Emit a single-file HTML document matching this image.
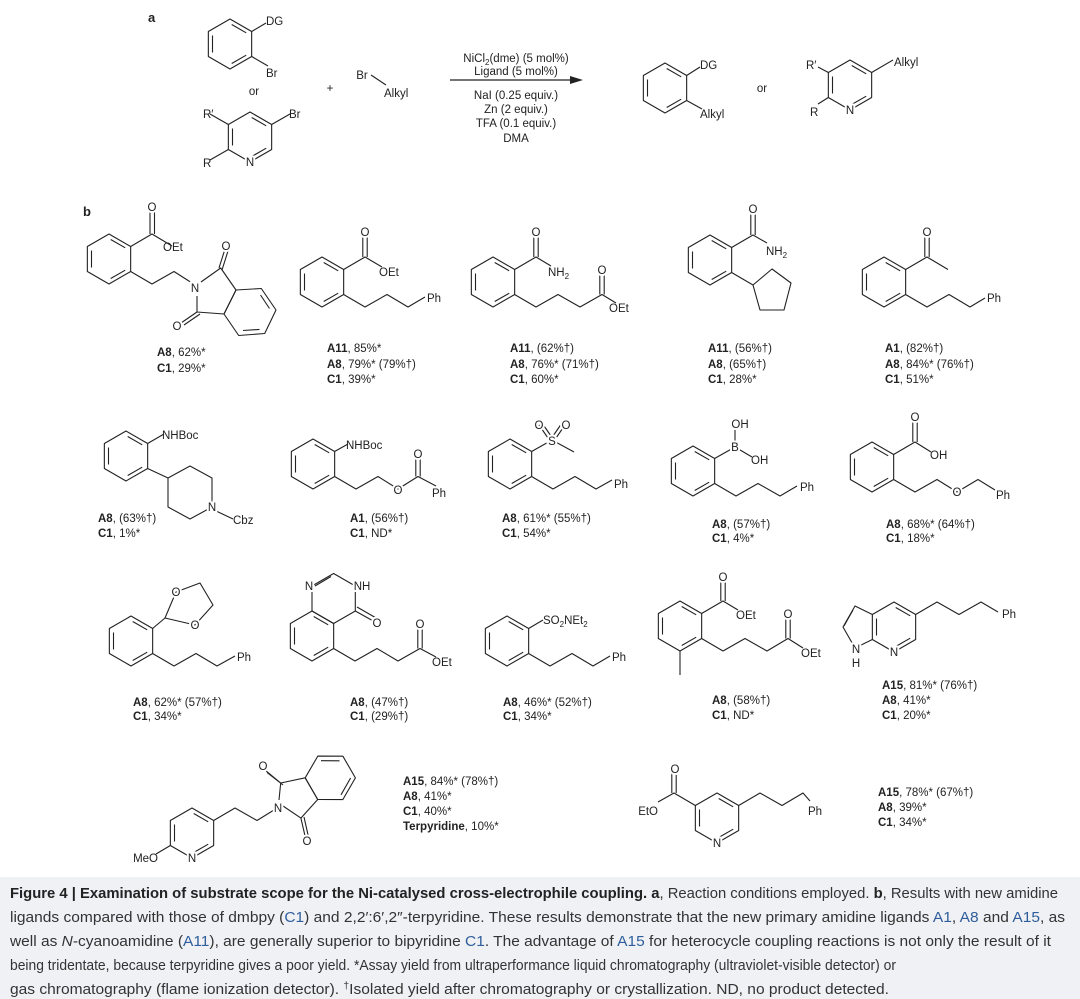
<!DOCTYPE html>
<html><head><meta charset="utf-8"><style>
html,body{margin:0;padding:0;background:#fff;}
svg{display:block;}
.b{stroke:#222;stroke-width:1.1;fill:none;stroke-linejoin:round;}
text{font-family:"Liberation Sans",sans-serif;font-size:11.5px;fill:#222;}
.a{paint-order:stroke;stroke:#fff;stroke-width:4px;text-anchor:middle;}
.l{font-size:11.5px;}
.cap{font-family:"Liberation Sans Narrow","Liberation Sans",sans-serif;font-size:15px;fill:#333;}
.bl{fill:#2f5e9c;}
</style></head><body>
<svg width="1080" height="999" viewBox="0 0 1080 999" xmlns="http://www.w3.org/2000/svg">
<defs>
<g id="bz"><polygon class="b" points="0,-25 21.65,-12.5 21.65,12.5 0,25 -21.65,12.5 -21.65,-12.5"/>
<path class="b" d="M1.7,-19.5L16.2,-11.2M16.2,11.2L1.7,19.5M-17.5,8.5L-17.5,-8.5"/></g>
</defs>

<!-- a -->
<text x="148" y="22" style="font-weight:bold;font-size:13px">a</text>
<use href="#bz" x="230" y="44"/>
<path class="b" d="M251.65,31.5L266,23M251.65,56.5L268,66"/>
<text x="266" y="25">DG</text><text x="266" y="77">Br</text>
<text x="254" y="95" style="text-anchor:middle">or</text>
<use href="#bz" x="250" y="137"/>
<path class="b" d="M228.35,124.5L210,114M228.35,149.5L210,160M271.65,124.5L290,114"/>
<text x="203" y="118">R′</text><text x="203" y="167">R</text><text x="289" y="118">Br</text>
<text x="250" y="166" class="a">N</text>
<text x="330" y="92" style="text-anchor:middle">+</text>
<text x="362" y="79" style="text-anchor:middle">Br</text>
<path class="b" d="M371,75L386,85"/>
<text x="384" y="97">Alkyl</text>
<path d="M450,80L574,80" stroke="#222" stroke-width="1.2"/>
<polygon points="583,80 570,76 570,84" fill="#222"/>
<g style="text-anchor:middle">
<text x="516" y="62">NiCl<tspan font-size="8" dy="3">2</tspan><tspan dy="-3">(dme) (5 mol%)</tspan></text>
<text x="516" y="75">Ligand (5 mol%)</text>
<text x="516" y="99">NaI (0.25 equiv.)</text>
<text x="516" y="113">Zn (2 equiv.)</text>
<text x="516" y="127">TFA (0.1 equiv.)</text>
<text x="516" y="142">DMA</text>
</g>
<use href="#bz" x="665" y="88"/>
<path class="b" d="M686.65,75.5L700,67M686.65,100.5L702,109"/>
<text x="700" y="69">DG</text><text x="700" y="118">Alkyl</text>
<text x="762" y="92" style="text-anchor:middle">or</text>
<use href="#bz" x="850" y="85"/>
<path class="b" d="M828.35,72.5L818,67M828.35,97.5L818,104M871.65,72.5L893,60"/>
<text x="806" y="69">R′</text><text x="810" y="116">R</text><text x="894" y="66">Alkyl</text>
<text x="850" y="114" class="a">N</text>

<text x="83" y="216" style="font-weight:bold;font-size:13px">b</text>

<!-- S1 -->
<use href="#bz" x="109" y="259"/>
<path class="b" d="M130.65,246.5L152,234L172,246M150,234V210M154.5,234V210M130.65,271.5L152,284L174,271.5L192,283"/>
<text x="152" y="211" class="a">O</text><text x="163" y="251">OEt</text>
<path class="b" d="M201,282L220.7,268L236,290L224,314L197,312L197,296M219,268L225,249M222,270L228,251M197,312L181,323M200,314L184,325"/>
<polygon class="b" points="236,290 224,314 238.7,335.5 264.7,333.5 276,310 261.3,288.5"/>
<path class="b" d="M243,330.5L259.5,329.4M269.5,308.5L260.5,295"/>
<text x="195" y="292" class="a">N</text>
<text x="226" y="250" class="a">O</text><text x="177" y="330" class="a">O</text>
<text x="157" y="356" class="l"><tspan font-weight="bold">A8</tspan>, 62%*</text>
<text x="157" y="372" class="l"><tspan font-weight="bold">C1</tspan>, 29%*</text>

<!-- S2 -->
<use href="#bz" x="322" y="282"/>
<path class="b" d="M343.6,269.5L365,257L382,267M362.8,257V234M367.2,257V234M343.6,294.5L365,307L387,294.5L408,307L425,297"/>
<text x="365" y="236" class="a">O</text><text x="379" y="276">OEt</text><text x="427" y="302">Ph</text>
<text x="327" y="352" class="l"><tspan font-weight="bold">A11</tspan>, 85%*</text>
<text x="327" y="368" class="l"><tspan font-weight="bold">A8</tspan>, 79%* (79%†)</text>
<text x="327" y="383" class="l"><tspan font-weight="bold">C1</tspan>, 39%*</text>

<!-- S3 -->
<use href="#bz" x="493" y="282"/>
<path class="b" d="M514.6,269.5L536,257L551,266M533.8,257V234M538.2,257V234M514.6,294.5L536,307L558,294.5L580,307L602,294.5L616,303M599.8,294.5V272M604.2,294.5V272"/>
<text x="536" y="236" class="a">O</text><text x="548" y="276">NH<tspan font-size="8" dy="3">2</tspan></text>
<text x="602" y="274" class="a">O</text><text x="609" y="312">OEt</text>
<text x="510" y="352" class="l"><tspan font-weight="bold">A11</tspan>, (62%†)</text>
<text x="510" y="368" class="l"><tspan font-weight="bold">A8</tspan>, 76%* (71%†)</text>
<text x="510" y="383" class="l"><tspan font-weight="bold">C1</tspan>, 60%*</text>

<!-- S4 -->
<use href="#bz" x="710" y="260"/>
<path class="b" d="M731.6,247.5L753,235L767,243M750.8,235V212M755.2,235V212M731.6,272.5L753,285"/>
<polygon class="b" points="753,285 772,269 791,283 784,310 760,310"/>
<text x="753" y="213" class="a">O</text><text x="766" y="255">NH<tspan font-size="8" dy="3">2</tspan></text>
<text x="708" y="352" class="l"><tspan font-weight="bold">A11</tspan>, (56%†)</text>
<text x="708" y="368" class="l"><tspan font-weight="bold">A8</tspan>, (65%†)</text>
<text x="708" y="383" class="l"><tspan font-weight="bold">C1</tspan>, 28%*</text>

<!-- S5 -->
<use href="#bz" x="884" y="282"/>
<path class="b" d="M905.6,269.5L927,257L948,269.5M924.8,257V234M929.2,257V234M905.6,294.5L927,307L949,294.5L970,307L985,298"/>
<text x="927" y="236" class="a">O</text><text x="987" y="302">Ph</text>
<text x="885" y="352" class="l"><tspan font-weight="bold">A1</tspan>, (82%†)</text>
<text x="885" y="368" class="l"><tspan font-weight="bold">A8</tspan>, 84%* (76%†)</text>
<text x="885" y="383" class="l"><tspan font-weight="bold">C1</tspan>, 51%*</text>

<!-- S6 -->
<use href="#bz" x="126" y="456"/>
<path class="b" d="M147.6,443.5L164,434M147.6,468.5L168,478"/>
<polygon class="b" points="168,478 190,466 212,478 212,507 190,519 168,507"/>
<path class="b" d="M214,510L233,519"/>
<text x="162" y="439">NHBoc</text>
<text x="212" y="511" class="a">N</text><text x="233" y="524">Cbz</text>
<text x="98" y="522" class="l"><tspan font-weight="bold">A8</tspan>, (63%†)</text>
<text x="98" y="537" class="l"><tspan font-weight="bold">C1</tspan>, 1%*</text>

<!-- S7 -->
<use href="#bz" x="313" y="464"/>
<path class="b" d="M334.6,451.5L348,444M334.6,476.5L356,489L378,476.5L398,489L418,476.5L436,486M415.8,476.5V456M420.2,476.5V456"/>
<text x="346" y="449">NHBoc</text>
<text x="398" y="494" class="a">O</text><text x="418" y="458" class="a">O</text><text x="432" y="497">Ph</text>
<text x="350" y="522" class="l"><tspan font-weight="bold">A1</tspan>, (56%†)</text>
<text x="350" y="537" class="l"><tspan font-weight="bold">C1</tspan>, ND*</text>

<!-- S8 -->
<use href="#bz" x="510" y="464"/>
<path class="b" d="M531.6,451.5L552,440L574,452M548,438L539,425M551,436L542,423M553,436L562,423M556,438L565,425M531.6,476.5L553,489L575,476.5L596,489L612,480"/>
<text x="552" y="445" class="a">S</text><text x="539" y="429" class="a">O</text><text x="566" y="429" class="a">O</text>
<text x="614" y="488">Ph</text>
<text x="502" y="522" class="l"><tspan font-weight="bold">A8</tspan>, 61%* (55%†)</text>
<text x="502" y="537" class="l"><tspan font-weight="bold">C1</tspan>, 54%*</text>

<!-- S9 -->
<use href="#bz" x="693" y="471"/>
<path class="b" d="M714.6,458.5L735,447L752,457M735,447V429M714.6,483.5L736,496L758,483.5L780,496L797,486"/>
<text x="735" y="451" class="a">B</text><text x="740" y="428" class="a">OH</text><text x="751" y="464">OH</text>
<text x="800" y="491">Ph</text>
<text x="712" y="528" class="l"><tspan font-weight="bold">A8</tspan>, (57%†)</text>
<text x="712" y="542" class="l"><tspan font-weight="bold">C1</tspan>, 4%*</text>

<!-- S10 -->
<use href="#bz" x="872" y="467"/>
<path class="b" d="M893.6,454.5L915,442L931,452M912.8,442V420M917.2,442V420M893.6,479.5L915,492L937,479.5L957,492L978,479.5L995,490"/>
<text x="915" y="421" class="a">O</text><text x="930" y="459">OH</text>
<text x="957" y="496" class="a">O</text><text x="996" y="499">Ph</text>
<text x="886" y="528" class="l"><tspan font-weight="bold">A8</tspan>, 68%* (64%†)</text>
<text x="886" y="542" class="l"><tspan font-weight="bold">C1</tspan>, 18%*</text>

<!-- S11 -->
<use href="#bz" x="131" y="641"/>
<path class="b" d="M152.6,628.5L165,618M152.6,653.5L174,666L196,653.5L217,666L235,656"/>
<polygon class="b" points="165,618 176,592 200,583 213,605 195,625"/>
<text x="176" y="596" class="a">O</text><text x="195" y="629" class="a">O</text>
<text x="237" y="661">Ph</text>
<text x="133" y="706" class="l"><tspan font-weight="bold">A8</tspan>, 62%* (57%†)</text>
<text x="133" y="720" class="l"><tspan font-weight="bold">C1</tspan>, 34%*</text>

<!-- S12 -->
<use href="#bz" x="312" y="636"/>
<polygon class="b" points="333.6,573.5 355.3,586 355.3,611 333.6,623.5 312,611 312,586"/>
<path class="b" d="M315,586L331,576.5M355.3,611L375,622M357,607L377,618.5M333.6,648.5L355,661L377,648.5L398,661L420,648.5L436,657M417.8,648.5V626M422.2,648.5V626"/>
<text x="309" y="590" class="a">N</text><text x="362" y="590" class="a">NH</text>
<text x="377" y="627" class="a">O</text><text x="420" y="628" class="a">O</text><text x="432" y="666">OEt</text>
<text x="350" y="706" class="l"><tspan font-weight="bold">A8</tspan>, (47%†)</text>
<text x="350" y="720" class="l"><tspan font-weight="bold">C1</tspan>, (29%†)</text>

<!-- S13 -->
<use href="#bz" x="507" y="641"/>
<path class="b" d="M528.6,628.5L543,620M528.6,653.5L550,666L572,653.5L593,666L610,656"/>
<text x="543" y="624">SO<tspan font-size="8" dy="3">2</tspan><tspan dy="-3">NEt</tspan><tspan font-size="8" dy="3">2</tspan></text>
<text x="612" y="661">Ph</text>
<text x="503" y="706" class="l"><tspan font-weight="bold">A8</tspan>, 46%* (52%†)</text>
<text x="503" y="720" class="l"><tspan font-weight="bold">C1</tspan>, 34%*</text>

<!-- S14 -->
<use href="#bz" x="680" y="626"/>
<path class="b" d="M701.6,613.5L723,601L738,610M720.8,601V579M725.2,601V579M701.6,638.5L723,651L745,638.5L767,651L788,638.5L803,648M785.8,638.5V616M790.2,638.5V616M680,651V675"/>
<text x="723" y="581" class="a">O</text><text x="736" y="619">OEt</text>
<text x="788" y="618" class="a">O</text><text x="801" y="657">OEt</text>
<text x="712" y="704" class="l"><tspan font-weight="bold">A8</tspan>, (58%†)</text>
<text x="712" y="719" class="l"><tspan font-weight="bold">C1</tspan>, ND*</text>

<!-- S15 -->
<use href="#bz" x="894" y="627"/>
<path class="b" d="M872.35,614.5L855,606L843,627L855,648L872.35,639.5M853,610L844,626M915.6,614.5L937,602L959,614.5L981,602L998,612"/>
<text x="894" y="656" class="a">N</text><text x="856" y="653" class="a">N</text><text x="856" y="667" style="text-anchor:middle">H</text>
<text x="1002" y="618">Ph</text>
<text x="882" y="689" class="l"><tspan font-weight="bold">A15</tspan>, 81%* (76%†)</text>
<text x="882" y="704" class="l"><tspan font-weight="bold">A8</tspan>, 41%*</text>
<text x="882" y="719" class="l"><tspan font-weight="bold">C1</tspan>, 20%*</text>

<!-- S16 -->
<use href="#bz" x="192" y="833"/>
<path class="b" d="M170.35,845.5L156,854M213.65,820.5L235,808L257,820.5L274,810"/>
<text x="192" y="862" class="a">N</text><text x="158" y="862" style="text-anchor:end">MeO</text>
<path class="b" d="M283,806L300.9,818.1L317.7,799.5L305.2,777.8L280.7,783L279,800M280.7,783L265,770M283,785L267,772.5M300.9,818.1L305.5,838M304,817L308.5,837"/>
<polygon class="b" points="317.7,799.5 305.2,777.8 317.8,756.1 342.9,756.2 355.4,777.9 342.8,799.6"/>
<path class="b" d="M321,760.7L339.5,760.8M350.6,778L341,794.8"/>
<text x="278" y="812" class="a">N</text><text x="263" y="770" class="a">O</text><text x="307" y="845" class="a">O</text>
<text x="403" y="785" class="l"><tspan font-weight="bold">A15</tspan>, 84%* (78%†)</text>
<text x="403" y="800" class="l"><tspan font-weight="bold">A8</tspan>, 41%*</text>
<text x="403" y="815" class="l"><tspan font-weight="bold">C1</tspan>, 40%*</text>
<text x="403" y="830" class="l"><tspan font-weight="bold">Terpyridine</tspan>, 10%*</text>

<!-- S17 -->
<use href="#bz" x="717" y="818"/>
<path class="b" d="M695.35,805.5L674,793L658,802M671.8,793V771M676.2,793V771M738.65,805.5L760,793L782,805.5L803,793L810,801"/>
<text x="717" y="847" class="a">N</text><text x="675" y="773" class="a">O</text>
<text x="658" y="815" style="text-anchor:end">EtO</text><text x="808" y="815">Ph</text>
<text x="878" y="796" class="l"><tspan font-weight="bold">A15</tspan>, 78%* (67%†)</text>
<text x="878" y="811" class="l"><tspan font-weight="bold">A8</tspan>, 39%*</text>
<text x="878" y="826" class="l"><tspan font-weight="bold">C1</tspan>, 34%*</text>

<!-- caption -->
<rect x="0" y="877" width="1080" height="122" fill="#eff1f4"/>
<text class="cap" x="10" y="898" textLength="1048" lengthAdjust="spacingAndGlyphs"><tspan font-weight="bold" fill="#222">Figure 4 | Examination of substrate scope for the Ni-catalysed cross-electrophile coupling. a</tspan>, Reaction conditions employed. <tspan font-weight="bold" fill="#222">b</tspan>, Results with new amidine</text>
<text class="cap" x="10" y="922" textLength="1055" lengthAdjust="spacingAndGlyphs">ligands compared with those of dmbpy (<tspan class="bl">C1</tspan>) and 2,2′:6′,2″-terpyridine. These results demonstrate that the new primary amidine ligands <tspan class="bl">A1</tspan>, <tspan class="bl">A8</tspan> and <tspan class="bl">A15</tspan>, as</text>
<text class="cap" x="10" y="946" textLength="1041" lengthAdjust="spacingAndGlyphs">well as <tspan font-style="italic">N</tspan>-cyanoamidine (<tspan class="bl">A11</tspan>), are generally superior to bipyridine <tspan class="bl">C1</tspan>. The advantage of <tspan class="bl">A15</tspan> for heterocycle coupling reactions is not only the result of it</text>
<text class="cap" x="10" y="970" textLength="886" lengthAdjust="spacingAndGlyphs">being tridentate, because terpyridine gives a poor yield. *Assay yield from ultraperformance liquid chromatography (ultraviolet-visible detector) or</text>
<text class="cap" x="10" y="994" textLength="879" lengthAdjust="spacingAndGlyphs">gas chromatography (flame ionization detector). <tspan font-size="10" dy="-5">†</tspan><tspan dy="5">Isolated yield after chromatography or crystallization. ND, no product detected.</tspan></text>
</svg>
</body></html>
